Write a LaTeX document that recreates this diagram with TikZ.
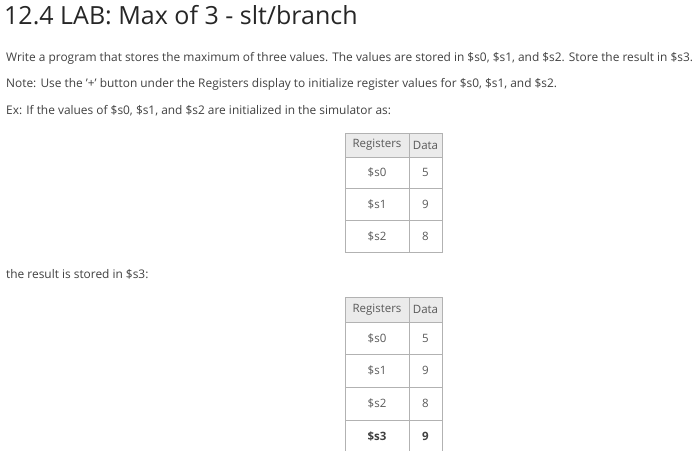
\documentclass[tikz,border=0pt]{standalone}
\usepackage{fontspec}
\setmainfont{Open Sans}
\begin{document}
\begin{tikzpicture}[x=1pt,y=-1pt,
 body/.style={anchor=west,inner sep=0,font=\fontsize{11.9}{13}\selectfont,text=black!75},
 cell/.style={inner sep=0,font=\fontsize{11.5}{13}\selectfont,text=black!65},
 hd/.style={fill=black!8},
 grid/.style={draw=black!30,line width=0.8pt}]
\useasboundingbox (0,0) rectangle (700,450);
\node[anchor=west,inner sep=0,font=\fontsize{25}{28}\selectfont,text=black!85] (title) at (4,15) {12.4 LAB: Max of 3 - slt/branch};
\node[body] (l1) at (6,58) {Write a program that stores the maximum of three values. The values are stored in \$s0, \$s1, and \$s2. Store the result in \$s3.};
\node[body] (l2) at (6,84) {Note: Use the '+' button under the Registers display to initialize register values for \$s0, \$s1, and \$s2.};
\node[body] (l3) at (6,111) {Ex: If the values of \$s0, \$s1, and \$s2 are initialized in the simulator as:};
\node[body] (l4) at (6,274) {the result is stored in \$s3:};
% table 1
\fill[hd] (345,133) rectangle (442,157);
\draw[grid] (345,133) rectangle (442,252);
\foreach \y in {157,188,220} \draw[grid] (345,\y) -- (442,\y);
\draw[grid] (409,133) -- (409,252);
\node[cell] (a0) at (377,145) {Registers}; \node[cell] (b0) at (425.5,145) {Data};
\node[cell] (a1) at (377,172) {\$s0}; \node[cell] (b1) at (425.5,172) {5};
\node[cell] (a2) at (377,204) {\$s1}; \node[cell] (b2) at (425.5,204) {9};
\node[cell] (a3) at (377,236) {\$s2}; \node[cell] (b3) at (425.5,236) {8};
% table 2
\fill[hd] (345,297) rectangle (442,322);
\draw[grid] (345,297) rectangle (442,451);
\foreach \y in {322,354,387,420} \draw[grid] (345,\y) -- (442,\y);
\draw[grid] (409,297) -- (409,451);
\node[cell] (c0) at (377,309.5) {Registers}; \node[cell] (d0) at (425.5,309.5) {Data};
\node[cell] (c1) at (377,338) {\$s0}; \node[cell] (d1) at (425.5,338) {5};
\node[cell] (c2) at (377,370.5) {\$s1}; \node[cell] (d2) at (425.5,370.5) {9};
\node[cell] (c3) at (377,403.5) {\$s2}; \node[cell] (d3) at (425.5,403.5) {8};
\node[cell,font=\fontsize{11.5}{13}\selectfont\bfseries,text=black!75] (c4) at (377,436) {\$s3}; \node[cell,font=\fontsize{11.5}{13}\selectfont\bfseries,text=black!75] (d4) at (425.5,436) {9};
\end{tikzpicture}
\end{document}
